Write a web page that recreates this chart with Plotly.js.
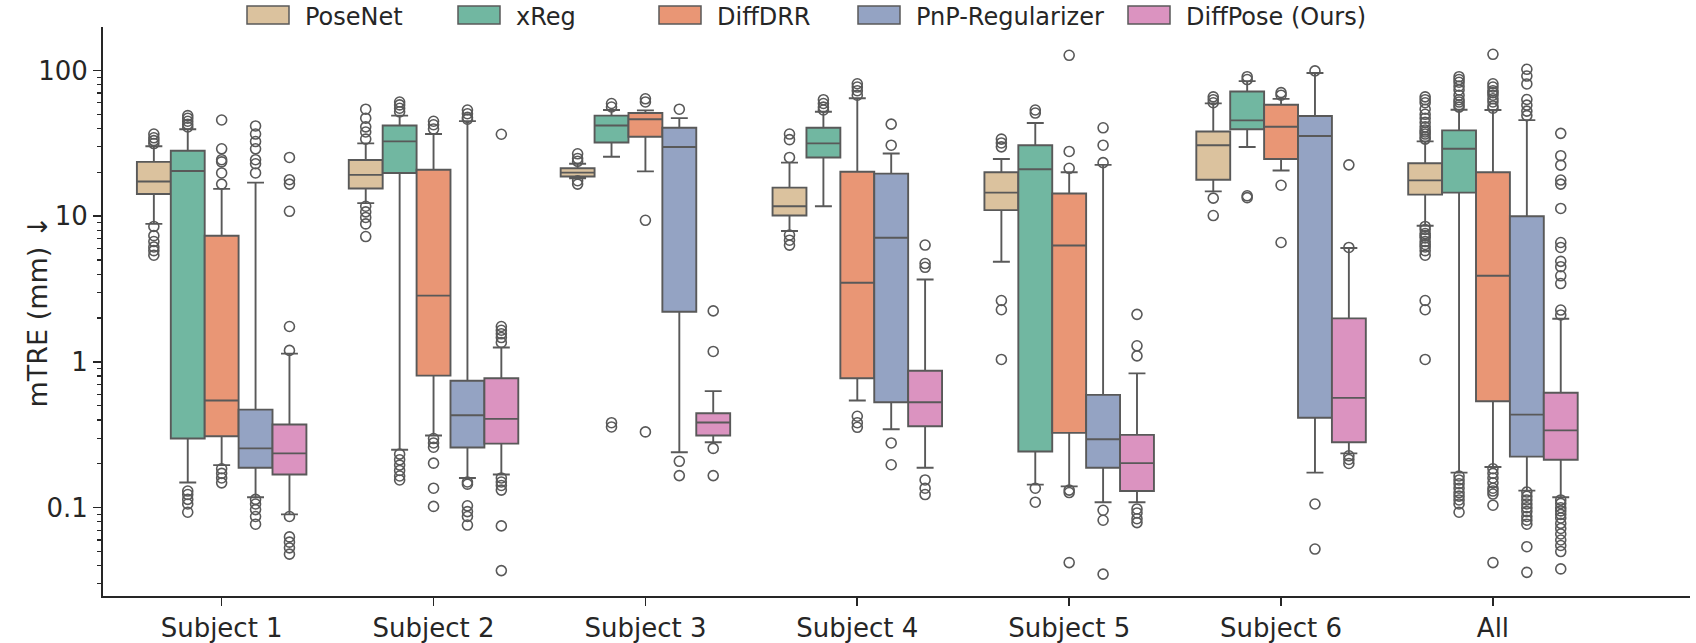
<!DOCTYPE html>
<html>
<head>
<meta charset="utf-8">
<script src="https://cdn.plot.ly/plotly-3.0.1.min.js"></script>
<style>html,body{margin:0;padding:0;background:#fff;}#chart{width:1696px;height:643px;}</style>
</head>
<body>
<div id="chart"></div>
<script>
// ---------- data ----------
const categories = ['Subject 1', 'Subject 2', 'Subject 3', 'Subject 4', 'Subject 5', 'Subject 6', 'All'];
const methods = ['PoseNet', 'xReg', 'DiffDRR', 'PnP-Regularizer', 'DiffPose (Ours)'];
const yTitle = 'mTRE (mm) ↓';
const threshold = 1;

const posenetQ1     = [14.2, 15.5, 18.7, 10.1, 11.0, 17.8, 14.05];
const posenetMedian = [17.3, 19.2, 19.9, 11.7, 14.5, 30.7, 17.6];
const posenetQ3     = [23.6, 24.3, 21.3, 15.7, 20.0, 38.1, 23.1];
const posenetLow    = [8.85, 12.3, 18.2, 7.92, 4.87, 14.8, 8.6];
const posenetHigh   = [30.2, 31.6, 22.9, 23.3, 24.7, 59.4, 32.6];
const posenetOutliers = [
  [36.6, 34.5, 33, 31.5, 8.5, 7.35, 6.7, 6.15, 5.8, 5.4],
  [54.2, 47, 41, 37.8, 33.8, 11.7, 10.7, 9.8, 8.85, 7.25],
  [26.8, 24.9, 23.8, 17.5, 16.6],
  [36.6, 33.5, 25.3, 7.43, 6.84, 6.33],
  [33.8, 31.8, 29.9, 2.64, 2.28, 1.04],
  [65.9, 63, 60, 13.3, 10.1],
  [65.9, 63, 60, 54.2, 50, 47, 44, 41, 39, 37.8, 36.6, 35, 33.8, 8.5, 8.1, 7.6, 7.35, 7.1, 6.7, 6.4, 6.15, 5.8, 5.4, 2.64, 2.28, 1.04]
];

const xregQ1     = [0.298, 19.8, 32.0, 25.3, 0.243, 39.5, 14.5];
const xregMedian = [20.4, 32.6, 41.9, 31.6, 21.0, 45.4, 29.0];
const xregQ3     = [28.1, 41.9, 49.0, 40.4, 30.7, 71.7, 38.8];
const xregLow    = [0.149, 0.25, 25.6, 11.7, 0.144, 29.8, 0.174];
const xregHigh   = [39.5, 49.0, 53.5, 52.0, 43.6, 84.4, 53.7];
const xregOutliers = [
  [49, 47, 44.8, 42.7, 40.9, 0.13, 0.123, 0.114, 0.106, 0.093],
  [60.7, 58, 55, 52, 0.233, 0.213, 0.196, 0.18, 0.165, 0.155],
  [59.3, 56.1, 0.383, 0.358],
  [63, 59.3, 56, 53.5],
  [53.5, 51, 0.136, 0.109],
  [90.6, 86.6, 13.8, 13.4],
  [90.6, 86.6, 83, 78, 73.5, 67.6, 63, 60.7, 58, 56, 0.165, 0.155, 0.146, 0.136, 0.127, 0.12, 0.113, 0.106, 0.093]
];

const diffdrrQ1     = [0.309, 0.806, 35.1, 0.773, 0.326, 24.7, 0.537];
const diffdrrMedian = [0.544, 2.85, 46.2, 3.49, 6.3, 41.1, 3.9];
const diffdrrQ3     = [7.34, 20.8, 51.1, 20.2, 14.3, 58.1, 20.0];
const diffdrrLow    = [0.196, 0.313, 20.3, 0.544, 0.140, 20.6, 0.19];
const diffdrrHigh   = [15.4, 36.6, 53.2, 64.5, 20.0, 63.8, 53.5];
const diffdrrOutliers = [
  [45.7, 29, 24.4, 23.6, 19.8, 16.6, 0.185, 0.172, 0.16, 0.148],
  [44.8, 42.4, 39.6, 0.298, 0.278, 0.26, 0.202, 0.136, 0.102],
  [63.9, 60.8, 9.37, 0.331],
  [81, 76.9, 72.6, 67.6, 0.424, 0.383, 0.356],
  [127, 27.8, 21.3, 0.132, 0.127, 0.042],
  [70.4, 67.6, 16.3, 6.6],
  [129, 81, 77, 72.6, 70.4, 67.6, 63.9, 60.8, 57, 55, 0.185, 0.172, 0.16, 0.148, 0.136, 0.13, 0.124, 0.104, 0.042]
];

const pnpQ1     = [0.188, 0.259, 2.21, 0.529, 0.188, 0.414, 0.224];
const pnpMedian = [0.255, 0.431, 29.8, 7.12, 0.295, 35.5, 0.435];
const pnpQ3     = [0.471, 0.743, 40.4, 19.6, 0.594, 48.7, 10.0];
const pnpLow    = [0.118, 0.160, 0.240, 0.345, 0.109, 0.174, 0.131];
const pnpHigh   = [17.0, 44.9, 47.1, 26.9, 22.5, 96, 45.6];
const pnpOutliers = [
  [41.6, 36.6, 32.5, 29, 24.4, 22.9, 19.8, 0.114, 0.106, 0.097, 0.087, 0.077],
  [53.5, 50.5, 47.6, 46.3, 0.150, 0.145, 0.103, 0.094, 0.087, 0.076],
  [54.2, 0.208, 0.166],
  [42.8, 30.7, 0.278, 0.197],
  [40.4, 30.7, 23.3, 0.096, 0.082, 0.035],
  [99.3, 0.106, 0.052],
  [101.8, 91.5, 80.8, 63.2, 57.8, 52.6, 49, 0.128, 0.12, 0.113, 0.106, 0.1, 0.094, 0.087, 0.082, 0.077, 0.054, 0.036]
];

const diffposeQ1     = [0.169, 0.275, 0.313, 0.362, 0.130, 0.281, 0.213];
const diffposeMedian = [0.236, 0.407, 0.384, 0.529, 0.202, 0.567, 0.339];
const diffposeQ3     = [0.372, 0.773, 0.444, 0.869, 0.316, 1.99, 0.614];
const diffposeLow    = [0.090, 0.169, 0.281, 0.188, 0.109, 0.236, 0.118];
const diffposeHigh   = [1.14, 1.256, 0.630, 3.68, 0.834, 6.05, 1.98];
const diffposeOutliers = [
  [25.3, 17.8, 16.6, 10.8, 1.75, 1.2, 0.087, 0.063, 0.058, 0.053, 0.048],
  [36.5, 1.75, 1.65, 1.56, 1.47, 1.36, 0.16, 0.15, 0.142, 0.132, 0.075, 0.037],
  [2.24, 1.18, 0.255, 0.166],
  [6.34, 4.73, 4.46, 0.155, 0.136, 0.123],
  [2.12, 1.29, 1.1, 0.098, 0.092, 0.084, 0.079],
  [22.5, 6.1, 0.227, 0.214, 0.201],
  [37, 26, 22.4, 17.7, 16.6, 11.3, 6.6, 6.1, 4.9, 4.5, 3.9, 3.45, 2.27, 2.1, 0.113, 0.107, 0.1, 0.095, 0.09, 0.085, 0.078, 0.072, 0.066, 0.06, 0.055, 0.05, 0.038]
];

// ---------- styling ----------
const colors = ['#DBC29E', '#71B7A1', '#E99675', '#94A3C3', '#DB93C0'];
const edge = '#595959';
const axisColor = '#262626';
const FONT = 'DejaVu Sans, Liberation Sans, sans-serif';

const stats = [
  [posenetQ1, posenetMedian, posenetQ3, posenetLow, posenetHigh, posenetOutliers],
  [xregQ1, xregMedian, xregQ3, xregLow, xregHigh, xregOutliers],
  [diffdrrQ1, diffdrrMedian, diffdrrQ3, diffdrrLow, diffdrrHigh, diffdrrOutliers],
  [pnpQ1, pnpMedian, pnpQ3, pnpLow, pnpHigh, pnpOutliers],
  [diffposeQ1, diffposeMedian, diffposeQ3, diffposeLow, diffposeHigh, diffposeOutliers]
];

const groupWidth = 0.8;
const boxW = groupWidth / methods.length;
const traces = [];
stats.forEach((s, h) => {
  const off = (h - (methods.length - 1) / 2) * boxW;
  const pos = categories.map((c, i) => i + off);
  traces.push({
    type: 'box', name: methods[h], x: pos,
    q1: s[0], median: s[1], q3: s[2], lowerfence: s[3], upperfence: s[4],
    width: boxW, whiskerwidth: 0.5, boxpoints: false,
    fillcolor: colors[h], line: {color: edge, width: 1.9},
    showlegend: false, hoverinfo: 'skip'
  });
  const ox = [], oy = [];
  s[5].forEach((arr, i) => arr.forEach(v => { ox.push(i + off); oy.push(v); }));
  traces.push({
    type: 'scatter', mode: 'markers', x: ox, y: oy, name: methods[h] + ' outliers',
    marker: {symbol: 'circle-open', size: 10, color: edge, line: {width: 1.6, color: edge}},
    showlegend: false, hoverinfo: 'skip'
  });
});

// ---------- custom legend (patches + labels) ----------
const W = 1696, H = 643;
const mL = 103, mR = 6, mT = 27, mB = 47;
const pw = W - mL - mR, ph = H - mT - mB;
const px = v => (v - mL) / pw;
const py = v => (H - mB - v) / ph;
const legendPatchX = [247, 458, 659, 858, 1128];
const legendTextGap = 15, patchW = 42, patchTop = 6, patchBot = 24;
const shapes = [{
  type: 'line', xref: 'paper', x0: 0, x1: 1, yref: 'y', y0: Math.log10(threshold), y1: Math.log10(threshold),
  line: {color: '#e00d0d', width: 2.6, dash: '11px,5px'}, layer: 'above'
}];
const annotations = [];
methods.forEach((m, h) => {
  shapes.push({type: 'rect', xref: 'paper', yref: 'paper',
    x0: px(legendPatchX[h]), x1: px(legendPatchX[h] + patchW), y0: py(patchBot), y1: py(patchTop),
    fillcolor: colors[h], line: {color: edge, width: 1.5}});
  annotations.push({xref: 'paper', yref: 'paper', x: px(legendPatchX[h] + patchW + legendTextGap), y: py(17),
    xanchor: 'left', yanchor: 'middle', text: m, showarrow: false, borderpad: 0,
    font: {family: FONT, size: 24, color: '#262626'}});
});
// y-axis title, placed like the reference (closer to the axis than Plotly's auto title)
annotations.push({xref: 'paper', yref: 'paper', x: px(37), y: 0.5, xanchor: 'center', yanchor: 'middle',
  textangle: -90, text: yTitle, showarrow: false, font: {family: FONT, size: 27, color: '#262626'}});

const minorVals = [];
[0.01, 0.1, 1, 10, 100].forEach(d => { for (let k = 2; k <= 9; k++) minorVals.push(k * d); });

const layout = {
  width: W, height: H,
  margin: {l: mL, r: mR, t: mT, b: mB, pad: 0},
  paper_bgcolor: '#ffffff', plot_bgcolor: '#ffffff',
  font: {family: FONT, size: 26, color: '#262626'},
  showlegend: false,
  boxmode: 'overlay',
  xaxis: {
    type: 'linear', range: [-0.56, 6.93],
    tickvals: categories.map((c, i) => i), ticktext: categories,
    showgrid: false, zeroline: false,
    showline: true, linecolor: axisColor, linewidth: 2,
    ticks: 'outside', ticklen: 8, tickwidth: 1.6, tickcolor: axisColor,
    tickfont: {family: FONT, size: 26, color: '#262626'}
  },
  yaxis: {
    type: 'log', range: [-1.606, 2.298],
    tickvals: [0.1, 1, 10, 100], ticktext: ['0.1', '1', '10', '100'],
    showgrid: false, zeroline: false,
    showline: true, linecolor: axisColor, linewidth: 2,
    ticks: 'outside', ticklen: 8, tickwidth: 1.6, tickcolor: axisColor,
    tickfont: {family: FONT, size: 26, color: '#262626'},
    minor: {tickvals: minorVals, ticks: 'outside', ticklen: 4, tickwidth: 1.2, tickcolor: axisColor, showgrid: false}
  },
  shapes: shapes,
  annotations: annotations
};

Plotly.newPlot('chart', traces, layout, {staticPlot: true, displayModeBar: false});
</script>
</body>
</html>
